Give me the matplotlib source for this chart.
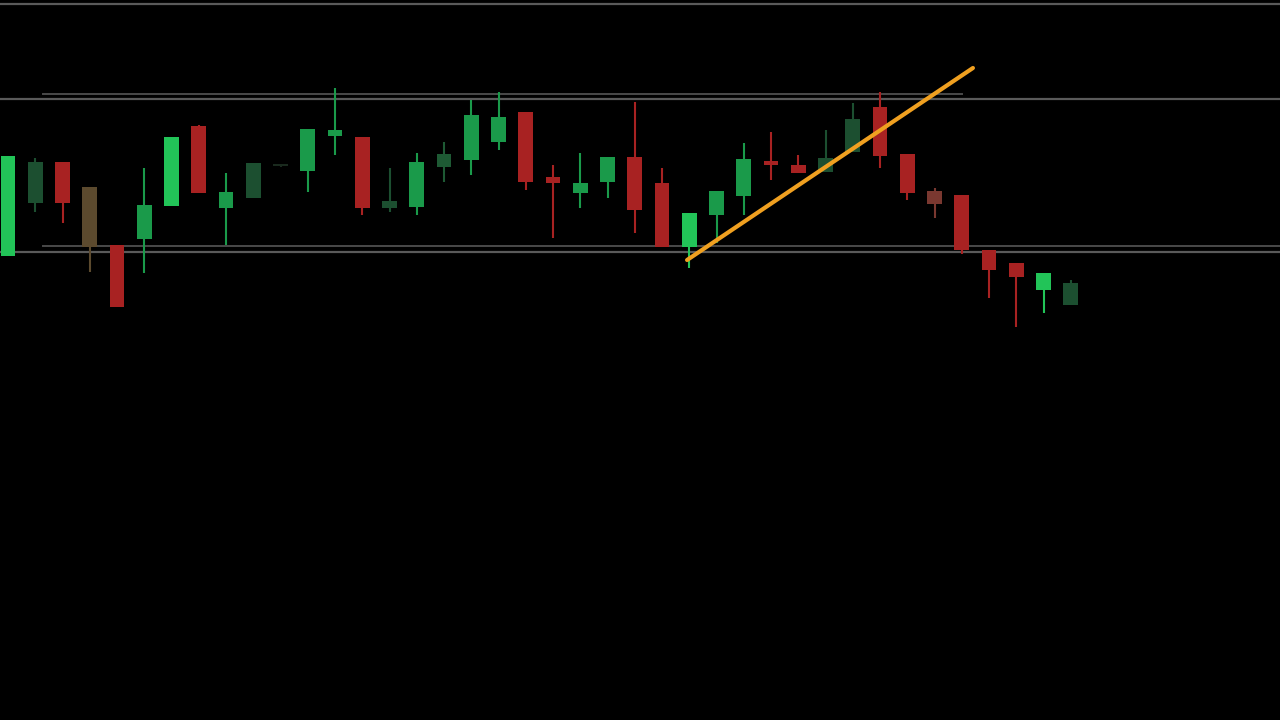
import matplotlib.pyplot as plt
import numpy as np

# candle data (price units)
opens  = [464, 517, 558, 533, 475, 481, 514, 594, 512, 522, 554, 549, 584, 583, 512, 513, 553, 560, 578, 608,
          543, 527, 538, 563, 537, 473, 505, 524, 559, 555, 548, 568, 613, 566, 529, 525, 470, 457, 430, 415]
highs  = [564, 562, 558, 533, 475, 552, 583, 595, 547, 557, 556, 591, 632, 583, 552, 567, 578, 620, 628, 608,
          555, 567, 563, 618, 552, 507, 529, 577, 588, 565, 590, 617, 628, 566, 532, 525, 470, 457, 447, 440]
lows   = [464, 508, 497, 448, 413, 447, 514, 527, 475, 522, 553, 528, 565, 505, 508, 505, 538, 545, 570, 530,
          482, 512, 522, 487, 473, 452, 477, 505, 540, 547, 548, 568, 552, 520, 502, 466, 422, 393, 407, 415]
closes = [564, 558, 517, 473, 413, 515, 583, 527, 528, 557, 555, 591, 590, 512, 519, 558, 566, 605, 603, 538,
          537, 537, 563, 510, 473, 507, 529, 561, 555, 547, 562, 601, 564, 527, 516, 470, 450, 443, 447, 437]

# support / resistance levels and trendline
levels_full = [716, 621, 468]
levels_short = [626, 474]
levels_short_end = [35.0, 46.7]   # candle index where the drawn level stops
trend_x = [24.92, 35.41]
trend_y = [460, 652]

# per-candle shading (the video has faded candles)
G, M, D, R = '#22c458', '#1a9a4a', '#1c4f30', '#a82222'
colors = [G, D, R, '#5c4a2e', R, M, G, R, M, D, '#1a2a1e', M, M, R, D, M, '#1e5a34', M, M, R,
          R, M, M, R, R, G, M, M, R, R, D, D, R, R, '#7a3830', R, R, R, G, D]

fig = plt.figure(figsize=(12.8, 7.2), dpi=100, facecolor='black')
ax = fig.add_axes([0, 0, 1, 1])
ax.set_facecolor('black')

x = np.arange(len(opens))
step = 27.25
ax.set_xlim(-8 / step, (1280 - 8) / step)
ax.set_ylim(0, 720)

for lv in levels_full:
    ax.axhline(lv, color='#5a5a5a', lw=1.6, zorder=1)
for lv, end in zip(levels_short, levels_short_end):
    ax.plot([35 / step, end], [lv, lv], color='#4a4a4a', lw=1.4, zorder=1)

for i in x:
    o, h, l, c = opens[i], highs[i], lows[i], closes[i]
    col = colors[i]
    ax.vlines(i, l, h, color=col, lw=1.5, zorder=2)
    lo, hi = min(o, c), max(o, c)
    ax.bar(i, max(hi - lo, 2), bottom=lo, width=0.55, color=col, zorder=3)

ax.plot(trend_x, trend_y, color='#f0a020', lw=3, solid_capstyle='round', zorder=4)

ax.axis('off')
fig.savefig('out.png', dpi=100, facecolor='black')
